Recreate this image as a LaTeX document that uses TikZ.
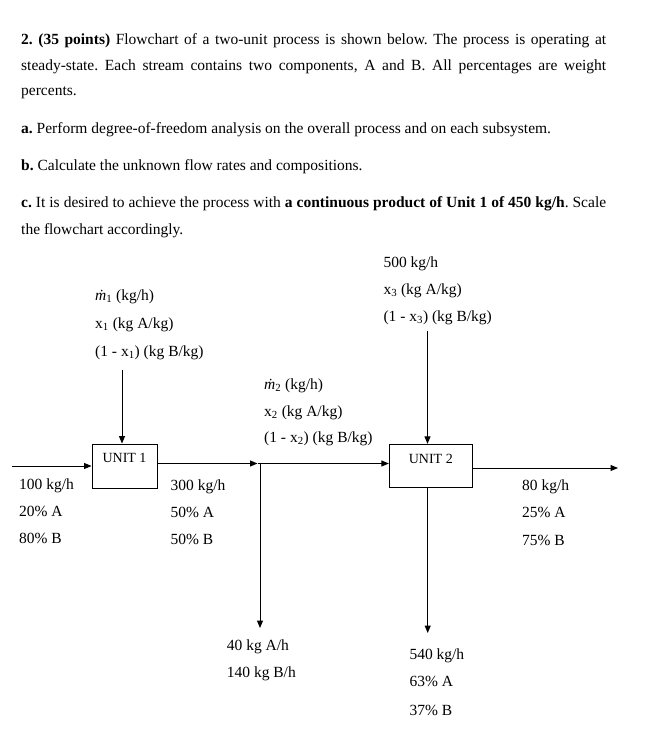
\documentclass[tikz,border=0pt]{standalone}
\usepackage{fontspec}
\setmainfont{Liberation Serif}
\usetikzlibrary{arrows.meta}
\frenchspacing
\begin{document}
\begin{tikzpicture}[x=1pt,y=-1pt,
  txt/.style={anchor=base west,inner sep=0pt,font=\fontsize{15.5}{18}\selectfont},
  utxt/.style={anchor=base,inner sep=0pt,font=\fontsize{14}{16}\selectfont},
  unit/.style={draw,line width=0.9pt,inner sep=0pt},
  flow/.style={line width=1pt,-{Triangle[length=7.5pt,width=6pt]}},
  pipe/.style={line width=1pt}]
\useasboundingbox[fill=white] (0,0) rectangle (651,741);
% header text
\node[txt] (l1) at (21,44.3) {\makebox[585pt][s]{\textbf{2. (35 points)} Flowchart of a two-unit process is shown below. The process is operating at}};
\node[txt] (l2) at (21,70.7) {\makebox[585pt][s]{steady-state. Each stream contains two components, A and B. All percentages are weight}};
\node[txt] (l3) at (21,96) {percents.};
\node[txt] (qa) at (21,133.3) {\textbf{a.} Perform degree-of-freedom analysis on the overall process and on each subsystem.};
\node[txt] (qb) at (21,170.7) {\textbf{b.} Calculate the unknown flow rates and compositions.};
\node[txt] (qc) at (21,207.7) {\makebox[585pt][s]{\textbf{c.} It is desired to achieve the process with \textbf{a continuous product of Unit 1 of 450 kg/h}. Scale}};
\node[txt] (qd) at (21,234.3) {the flowchart accordingly.};
% units
\node[unit,minimum width=65pt,minimum height=44pt] (u1) at (124.5,466) {};
\node[utxt] (u1t) at (124.5,462.7) {UNIT 1};
\node[unit,minimum width=83pt,minimum height=43pt] (u2) at (430.8,465.8) {};
\node[utxt] (u2t) at (430.8,463.3) {UNIT 2};
% coordinates
\coordinate (feed) at (12,466);
\coordinate (m1top) at (122,370);
\coordinate (m3top) at (427.5,331);
\coordinate (j) at (260,463.5);
\coordinate (jend) at (257.5,463.5);
\coordinate (out2) at (618,468);
\coordinate (bot1) at (260,628);
\coordinate (bot2) at (427.7,633);
% connectors
\draw[flow] (feed) -- (feed -| u1.west);
\draw[flow] (m1top) -- (m1top |- u1.north);
\draw[flow] (m3top) -- (m3top |- u2.north);
\draw[flow] (j -| u1.east) -- (jend);
\draw[flow] (jend) -- (j -| u2.west);
\draw[flow] (j) -- (bot1);
\draw[flow] (out2 -| u2.east) -- (out2);
\draw[flow] (bot2 |- u2.south) -- (bot2);
% stream labels
\node[txt] (s1a) at (19,489) {100 kg/h};
\node[txt] (s1b) at (19,516.3) {20\% A};
\node[txt] (s1c) at (19,543.3) {80\% B};
\node[txt] (s2a) at (170.5,490) {300 kg/h};
\node[txt] (s2b) at (170.5,517.3) {50\% A};
\node[txt] (s2c) at (170.5,544.6) {50\% B};
\node[txt] (s3a) at (522,490) {80 kg/h};
\node[txt] (s3b) at (522,517.3) {25\% A};
\node[txt] (s3c) at (522,545) {75\% B};
\node[txt] (m1a) at (95,300.7) {\textit{ṁ}\textsubscript{1} (kg/h)};
\node[txt] (m1b) at (95,328.7) {x\textsubscript{1} (kg A/kg)};
\node[txt] (m1c) at (95,356) {(1 - x\textsubscript{1}) (kg B/kg)};
\node[txt] (m2a) at (264,389.3) {\textit{ṁ}\textsubscript{2} (kg/h)};
\node[txt] (m2b) at (264,416) {x\textsubscript{2} (kg A/kg)};
\node[txt] (m2c) at (264,442.7) {(1 - x\textsubscript{2}) (kg B/kg)};
\node[txt] (m3a) at (383.3,267) {500 kg/h};
\node[txt] (m3b) at (383.3,294.7) {x\textsubscript{3} (kg A/kg)};
\node[txt] (m3c) at (383.3,321.3) {(1 - x\textsubscript{3}) (kg B/kg)};
\node[txt] (b1a) at (226.7,650) {40 kg A/h};
\node[txt] (b1b) at (226.7,677.7) {140 kg B/h};
\node[txt] (b2a) at (409.3,659) {540 kg/h};
\node[txt] (b2b) at (409.3,686.7) {63\% A};
\node[txt] (b2c) at (409.3,715.7) {37\% B};
\end{tikzpicture}
\end{document}
